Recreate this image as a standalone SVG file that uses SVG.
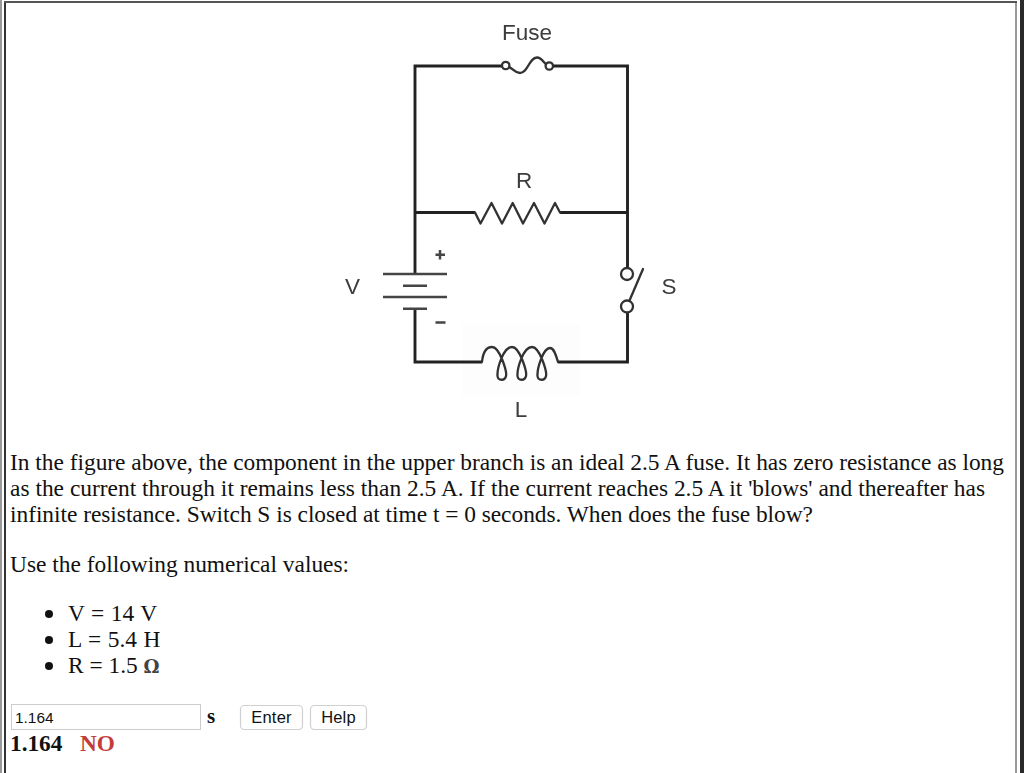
<svg xmlns="http://www.w3.org/2000/svg" width="1024" height="773" viewBox="0 0 1024 773">
<defs><filter id="soft" x="-5%" y="-5%" width="110%" height="110%"><feGaussianBlur stdDeviation="0.55"/></filter></defs>
<style>
.w{fill:none;stroke:#222;stroke-width:2.900;stroke-linejoin:miter}
.c{fill:none;stroke:#333;stroke-width:2.300;stroke-linejoin:round;stroke-linecap:round}
.p{fill:#fff;stroke:#333;stroke-width:2.300}
.b{fill:none;stroke:#444;stroke-width:2.500}
.l{font-family:"Liberation Sans",sans-serif;font-size:22.500px;fill:#3c3c3c;text-anchor:middle}
.t{font-family:"Liberation Serif",serif;font-size:23.400px;fill:#111}
.u{font-family:"Liberation Sans",sans-serif;font-size:16.500px;letter-spacing:0.200px;fill:#111}
.btn{fill:#fff;stroke:#d0d0d0;stroke-width:1.200}
</style>
<rect width="1024" height="773" fill="#fff"/>
<path d="M1 0V773M1016 2V773" stroke="#999" stroke-width="2" fill="none"/>
<path d="M5 2V773" stroke="#333" stroke-width="2" fill="none"/>
<path d="M4 2H1017" stroke="#555" stroke-width="2" fill="none"/>
<rect x="1020" y="0" width="4" height="773" fill="#2a2a2a"/>
<rect x="462" y="325" width="118" height="70" fill="#fdfdfd"/>
<g filter="url(#soft)">
<g id="connectors">
<path class="w" d="M502 66H415V212.500H475M415 212.500V274M553 66H627.500V212.500H560M627.500 212.500V268M415 308V362H482M558 362H627.500V312"/>
</g>
<g id="fuse">
<path class="c" d="M506 66C513 67 514 73 520 73C528 73 529 57.500 537 57.500C543 57.500 544 65 549 66"/>
<circle class="p" cx="505.700" cy="65.500" r="3.700"/>
<circle class="p" cx="549.300" cy="66" r="3.700"/>
<text class="l" x="527" y="40">Fuse</text>
</g>
<g id="resistor">
<path class="c" d="M475 212.500L480.500 223.500L491.500 203L502 223.500L512.700 203L523 223.500L534 203L544.500 223.500L555 203L560 212.500"/>
<text class="l" x="524" y="188">R</text>
</g>
<g id="battery">
<path class="b" d="M383 274H447M403 285.700H427M383 297H447M403 308.700H427"/>
<path class="b" stroke-width="1.800" d="M435.500 254.700H445M440 250V259.500M435.500 322.500H445.500"/>
<text class="l" x="352.500" y="293.500">V</text>
</g>
<g id="switch">
<circle class="p" cx="627" cy="274" r="6"/>
<circle class="p" cx="627" cy="306.500" r="6"/>
<path class="c" d="M629.500 300.500L643 269"/>
<text class="l" x="669" y="294">S</text>
</g>
<g id="inductor">
<path class="c" d="M482 362C483 352 487 347 492 347C500 347 507 372 506 376C505 381 498 381 497.500 376C497 369 503 347 512 347C520 347 527 372 526 376C525 381 518 381 517.500 376C517 369 523 347 532 347C540 347 547 372 546 376C545 381 538 381 537.500 376C537 369 543 348 550 348C554 348 556 355 558 362"/>
<text class="l" x="521" y="416.500">L</text>
</g>
</g>
<g id="text">
<text class="t" x="10" y="470" textLength="994" lengthAdjust="spacing">In the figure above, the component in the upper branch is an ideal 2.5 A fuse. It has zero resistance as long</text>
<text class="t" x="10" y="496" textLength="975" lengthAdjust="spacing">as the current through it remains less than 2.5 A. If the current reaches 2.5 A it 'blows' and thereafter has</text>
<text class="t" x="10" y="522" textLength="803" lengthAdjust="spacing">infinite resistance. Switch S is closed at time t = 0 seconds. When does the fuse blow?</text>
<text class="t" x="10" y="572">Use the following numerical values:</text>
<circle cx="49" cy="614" r="4" fill="#111"/>
<circle cx="49" cy="640" r="4" fill="#111"/>
<circle cx="49" cy="666" r="4" fill="#111"/>
<text class="t" x="68" y="621" word-spacing="0.700">V = 14 V</text>
<text class="t" x="68" y="647" word-spacing="0.700">L = 5.4 H</text>
<text class="t" x="68" y="673">R = 1.5 <tspan font-family="'DejaVu Serif',serif" font-size="18" font-weight="bold" fill="#444">Ω</tspan></text>
</g>
<g id="input">
<rect x="11.500" y="704.500" width="189" height="25" fill="#fff" stroke="#ccc"/>
<text x="15" y="723" font-family="'Liberation Sans',sans-serif" font-size="15.400" fill="#111">1.164</text>
<text x="207" y="723" font-family="'Liberation Serif',serif" font-size="21" fill="#111" font-weight="bold">s</text>
</g>
<g id="enter">
<rect class="btn" x="240.500" y="705.500" width="62" height="24" rx="4"/>
<text class="u" x="271.500" y="723" text-anchor="middle">Enter</text>
</g>
<g id="help">
<rect class="btn" x="310.500" y="705.500" width="56" height="24" rx="4"/>
<text class="u" x="338.500" y="723" text-anchor="middle">Help</text>
</g>
<g id="answer">
<text x="10" y="751" font-family="'Liberation Serif',serif" font-size="23.300" font-weight="bold" fill="#111">1.164</text>
<text x="80" y="751" font-family="'Liberation Serif',serif" font-size="23.300" font-weight="bold" fill="#c33b3b">NO</text>
</g>
</svg>
